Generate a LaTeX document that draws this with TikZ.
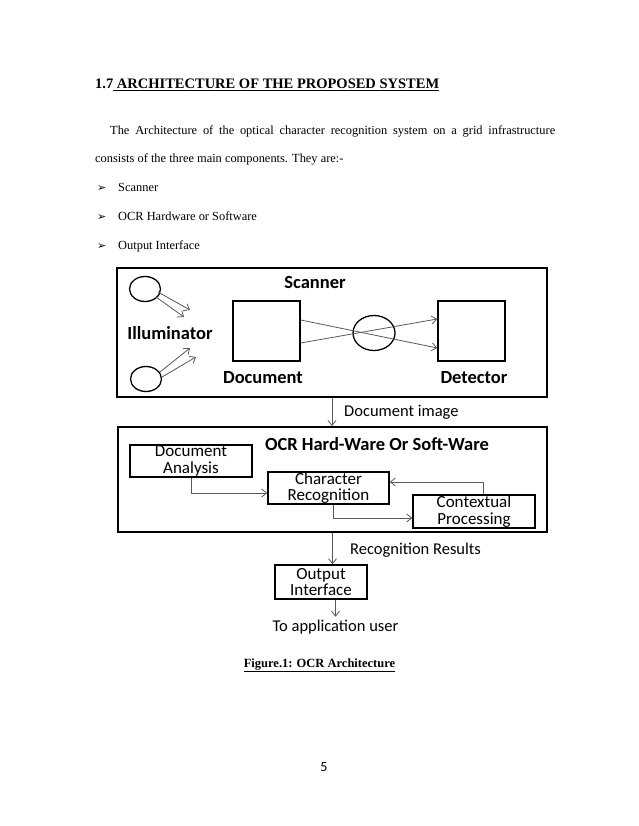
\documentclass[tikz,border=0pt]{standalone}
\usepackage{fontspec}
\setmainfont{Liberation Serif}
\newfontfamily\carl{Carlito}
\newfontfamily\dejavu{DejaVu Sans}
\usetikzlibrary{shapes.geometric,arrows.meta,calc}
\tikzset{
  bigbox/.style={draw, line width=1.8pt, inner sep=0pt},
  smallbox/.style={draw, line width=1.5pt, inner sep=0pt, align=center,
    font=\carl\fontsize{17}{16.5}\selectfont},
  lens/.style={draw, ellipse, line width=1.3pt, inner sep=0pt},
  flow/.style={draw=black!65, line width=0.8pt, -{Straight Barb[length=5pt,width=8pt]}},
  boldlbl/.style={inner sep=0pt, font=\carl\bfseries\fontsize{18.5}{20}\selectfont},
  plainlbl/.style={inner sep=0pt, font=\carl\fontsize{16.5}{18}\selectfont},
  body/.style={inner sep=0pt, anchor=base west, font=\fontsize{12.4}{14}\selectfont},
  bul/.style={inner sep=0pt, anchor=base west, font=\dejavu\fontsize{11}{12}\selectfont}
}
\begin{document}
\begin{tikzpicture}[x=1pt,y=-1pt]
\useasboundingbox[fill=white] (0,0) rectangle (638,826);
% heading and text
\node[body, font=\bfseries\fontsize{14.5}{16}\selectfont] (head) at (95,89) {1.7\underline{\ ARCHITECTURE OF THE PROPOSED SYSTEM}};
\node[body] (l1) at (110,135) {\makebox[445pt][s]{The Architecture of the optical character recognition system on a grid infrastructure}};
\node[body] (l2) at (95,163) {consists of the three main components. They are:-};
\node[bul] (b1) at (97,192) {➢};
\node[body] (t1) at (118,192) {Scanner};
\node[bul] (b2) at (97,220.5) {➢};
\node[body] (t2) at (118,220.5) {OCR Hardware or Software};
\node[bul] (b3) at (97,249) {➢};
\node[body] (t3) at (118,249) {Output Interface};
% scanner
\node[bigbox, minimum width=430pt, minimum height=129pt] (scan) at (332,332.5) {};
\node[boldlbl] (scanlbl) at (315,283) {Scanner};
\node[lens, minimum width=31pt, minimum height=25pt] (ill1) at (145,289) {};
\node[lens, minimum width=31pt, minimum height=25pt] (ill2) at (146,379) {};
\node[boldlbl] (illlbl) at (170,333) {Illuminator};
\node[draw, line width=1.5pt, minimum width=67pt, minimum height=60pt] (doc) at (266.5,331) {};
\node[draw, line width=1.5pt, minimum width=67pt, minimum height=60pt] (det) at (471.5,331) {};
\node[lens, minimum width=42pt, minimum height=35pt] (lens) at (374,333) {};
\node[boldlbl] (doclbl) at (263,378) {Document};
\node[boldlbl] (detlbl) at (474,378) {Detector};
\coordinate (a1s) at (158,292); \coordinate (a1e) at (190,310);
\coordinate (a2s) at (156,297); \coordinate (a2e) at (184,317);
\coordinate (a3s) at (160,372); \coordinate (a3e) at (190,348);
\coordinate (a4s) at (162,377); \coordinate (a4e) at (196,357);
\draw[flow] (a1s) -- (a1e);
\draw[flow] (a2s) -- (a2e);
\draw[flow] (a3s) -- (a3e);
\draw[flow] (a4s) -- (a4e);
\draw[flow] ([yshift=11pt]doc.east) -- ([yshift=-17pt]det.west);
\draw[flow] ([yshift=-12pt]doc.east) -- ([yshift=12pt]det.west);
% OCR
\node[bigbox, minimum width=429pt, minimum height=105pt] (ocr) at (332.5,479.5) {};
\draw[flow] (scan.south) -- (scan.south |- ocr.north);
\node[plainlbl, anchor=west] (dimg) at (344,412) {Document image};
\node[boldlbl] (ocrlbl) at (377,444) {OCR Hard-Ware Or Soft-Ware};
\node[smallbox, minimum width=122pt, minimum height=32pt] (da) at (191,461) {Document\\Analysis};
\node[smallbox, minimum width=121pt, minimum height=32pt] (cr) at (328.5,488) {Character\\Recognition};
\node[smallbox, minimum width=122pt, minimum height=33pt] (ct) at (474,511.5) {Contextual\\Processing};
\draw[flow] (da.south) |- ([yshift=-5pt]cr.west);
\draw[flow] ([xshift=9pt]ct.north) |- ([yshift=6pt]cr.east);
\draw[flow] ([xshift=4.5pt]cr.south) |- ([yshift=-6.5pt]ct.west);
% output
\node[smallbox, minimum width=92pt, minimum height=34pt] (out) at (321,582) {Output\\Interface};
\draw[flow] (ocr.south) -- (ocr.south |- out.north);
\node[plainlbl, anchor=west] (rr) at (350,550) {Recognition Results};
\node[plainlbl] (user) at (335.5,627) {To application user};
\draw[flow] (user.north |- out.south) -- ([yshift=3pt]user.north);
% caption
\node[body, anchor=base, font=\bfseries\fontsize{12.5}{14}\selectfont] (cap) at (319.5,667) {\underline{Figure.1: OCR Architecture}};
\node[inner sep=0pt, font=\carl\fontsize{14}{16}\selectfont] (pg) at (324,767) {5};
\end{tikzpicture}
\end{document}
